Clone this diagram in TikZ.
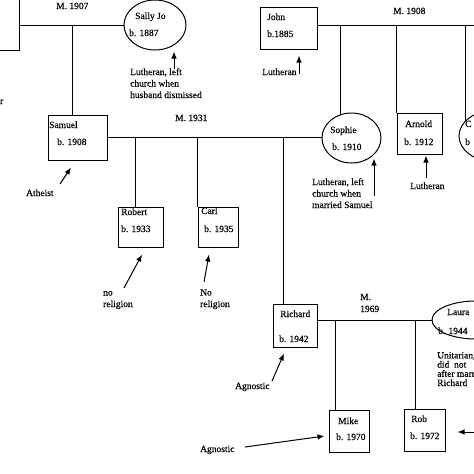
\documentclass[tikz,border=0pt]{standalone}
\usepackage{fontspec}
\setmainfont{Liberation Serif}[FakeBold=0.35]
\usetikzlibrary{arrows.meta,shapes.geometric}
\begin{document}
\begin{tikzpicture}[x=1pt,y=-1pt,
  person/.style={draw,line width=1pt,inner sep=0pt},
  pbox/.style={person,rectangle},
  pell/.style={person,ellipse},
  tx/.style={anchor=base west,inner sep=0pt,font=\fontsize{9.5}{11.5}\selectfont},
  note/.style={tx,align=left},
  link/.style={line width=1pt},
  arr/.style={line width=1pt,-{Latex[length=7pt,width=5.5pt]}}]
\useasboundingbox (0,0) rectangle (474,474);
\clip (0,0) rectangle (474,474);
% people
\node[pbox,minimum width=50,minimum height=62] (tl) at (-6,19) {};
\node[pell,minimum width=62,minimum height=50] (sally) at (155,25) {};
\node[pbox,minimum width=59,minimum height=45] (samuel) at (77.5,137.5) {};
\node[pbox,minimum width=57,minimum height=42] (john) at (288.5,28) {};
\node[pell,minimum width=59,minimum height=50] (sophie) at (351.5,138) {};
\node[pbox,minimum width=45,minimum height=41] (arnold) at (419.5,133.5) {};
\node[pell,minimum width=66,minimum height=50] (cnode) at (492,136) {};
\node[pbox,minimum width=45,minimum height=40] (robert) at (140.5,227) {};
\node[pbox,minimum width=40,minimum height=40] (carl) at (218,227) {};
\node[pbox,minimum width=44,minimum height=43] (richard) at (295,325.5) {};
\node[pell,minimum width=88,minimum height=38] (laura) at (476,320) {};
\node[pbox,minimum width=40,minimum height=42] (mike) at (349,431) {};
\node[pbox,minimum width=41,minimum height=42] (rob) at (424.5,430) {};
% texts in people
\node[tx] (t-sally1) at (135,19) {Sally Jo};
\node[tx] (t-sally2) at (129,36) {b. 1887};
\node[tx] (t-sam1) at (49,128) {Samuel};
\node[tx] (t-sam2) at (57,145) {b. 1908};
\node[tx] (t-john1) at (267,20) {John};
\node[tx] (t-john2) at (267,37) {b.1885};
\node[tx] (t-soph1) at (330,133) {Sophie};
\node[tx] (t-soph2) at (332,150) {b. 1910};
\node[tx] (t-arn1) at (405,127) {Arnold};
\node[tx] (t-arn2) at (404,145) {b. 1912};
\node[tx] (t-c1) at (465,127) {C};
\node[tx] (t-c2) at (465,145) {b};
\node[tx] (t-rob1) at (121,215) {Robert};
\node[tx] (t-rob2) at (121,232) {b. 1933};
\node[tx] (t-carl1) at (201,214) {Carl};
\node[tx] (t-carl2) at (204,232) {b. 1935};
\node[tx] (t-ric1) at (280,317) {Richard};
\node[tx] (t-ric2) at (279,342) {b. 1942};
\node[tx] (t-lau1) at (447,315) {Laura};
\node[tx] (t-lau2) at (438,334) {b. 1944};
\node[tx] (t-mike1) at (338,424) {Mike};
\node[tx] (t-mike2) at (336,440) {b. 1970};
\node[tx] (t-rb1) at (411,422) {Rob};
\node[tx] (t-rb2) at (410,439) {b. 1972};
% marriage labels
\node[tx] (m1907) at (56,9) {M. 1907};
\node[tx] (m1908) at (393,14) {M. 1908};
\node[tx] (m1931) at (175,121) {M. 1931};
\node[tx] (m1969a) at (360,300) {M.};
\node[tx] (m1969b) at (360,312) {1969};
% notes (base = last line)
\node[tx] (nr) at (0,104) {r};
\node[note] (n-sally) at (130,98) {Lutheran, left\\church when\\husband dismissed};
\node[tx] (n-sam) at (26,196) {Atheist};
\node[tx] (n-john) at (262,75) {Lutheran};
\node[note] (n-soph) at (312,208) {Lutheran, left\\church when\\married Samuel};
\node[tx] (n-arn) at (410,189) {Lutheran};
\node[note] (n-rob) at (103,307) {no\\religion};
\node[note] (n-carl) at (200,307) {No\\religion};
\node[tx] (n-ric) at (235,389) {Agnostic};
\node[tx] (n-mike) at (200,452) {Agnostic};
\node[note,font=\fontsize{9.5}{9.2}\selectfont] (n-lau) at (437,386) {Unitarian,\\did\ \ not\\after married\\Richard};
% marriage lines
\coordinate (jend) at (480,25);
\draw[link] (tl.east |- sally.west) -- (sally.west);
\draw[link] ([shift={(-5.5,0)}]samuel.north) -- ([shift={(-5.5,0)}]samuel.north |- sally.west);
\draw[link] (samuel.east) -- (samuel.east -| sophie.west);
\draw[link] (john.east |- jend) -- (jend);
\draw[link] ([shift={(-11.5,2)}]sophie.north) -- ([shift={(-11.5,0)}]sophie.north |- jend);
\draw[link] (arnold.north west) -- (arnold.north west |- jend);
\draw[link] (cnode.150) -- (cnode.150 |- jend);
\draw[link] ([shift={(-5.5,0)}]robert.north) -- ([shift={(-5.5,0)}]robert.north |- samuel.east);
\draw[link] (carl.north west) -- (carl.north west |- samuel.east);
\draw[link] ([shift={(-12,0)}]richard.north) -- ([shift={(-12,0)}]richard.north |- samuel.east);
\draw[link] (laura.west -| richard.east) -- (laura.west);
\draw[link] ([shift={(-14,0)}]mike.north) -- ([shift={(-14,0)}]mike.north |- laura.west);
\draw[link] ([shift={(-9.5,0)}]rob.north) -- ([shift={(-9.5,0)}]rob.north |- laura.west);
% arrows
\coordinate (a1) at (174,69);
\coordinate (a2) at (60,184);
\coordinate (a3) at (299,74);
\coordinate (a4) at (374,196);
\coordinate (a5) at (426,178);
\coordinate (a6) at (124,288);
\coordinate (a7) at (204,282);
\coordinate (a8) at (272,381);
\coordinate (a9) at (245,447);
\coordinate (a10) at (476,432);
\draw[arr] (a1) -- ([shift={(19,1)}]sally.south);
\draw[arr] (a2) -- ([shift={(-6.5,7)}]samuel.south);
\draw[arr] (a3) -- ([shift={(10.5,6)}]john.south);
\draw[arr] (a4) -- ([shift={(22.5,-5)}]sophie.south);
\draw[arr] (a5) -- ([shift={(6.5,1)}]arnold.south);
\draw[arr] (a6) -- ([shift={(1.5,7)}]robert.south);
\draw[arr] (a7) -- ([shift={(-9,7)}]carl.south);
\draw[arr] (a8) -- ([shift={(-11,6)}]richard.south);
\draw[arr] (a9) -- ([shift={(-4,5)}]mike.west);
\draw[arr] (a10) -- ([shift={(12,2)}]rob.east);
\end{tikzpicture}
\end{document}
